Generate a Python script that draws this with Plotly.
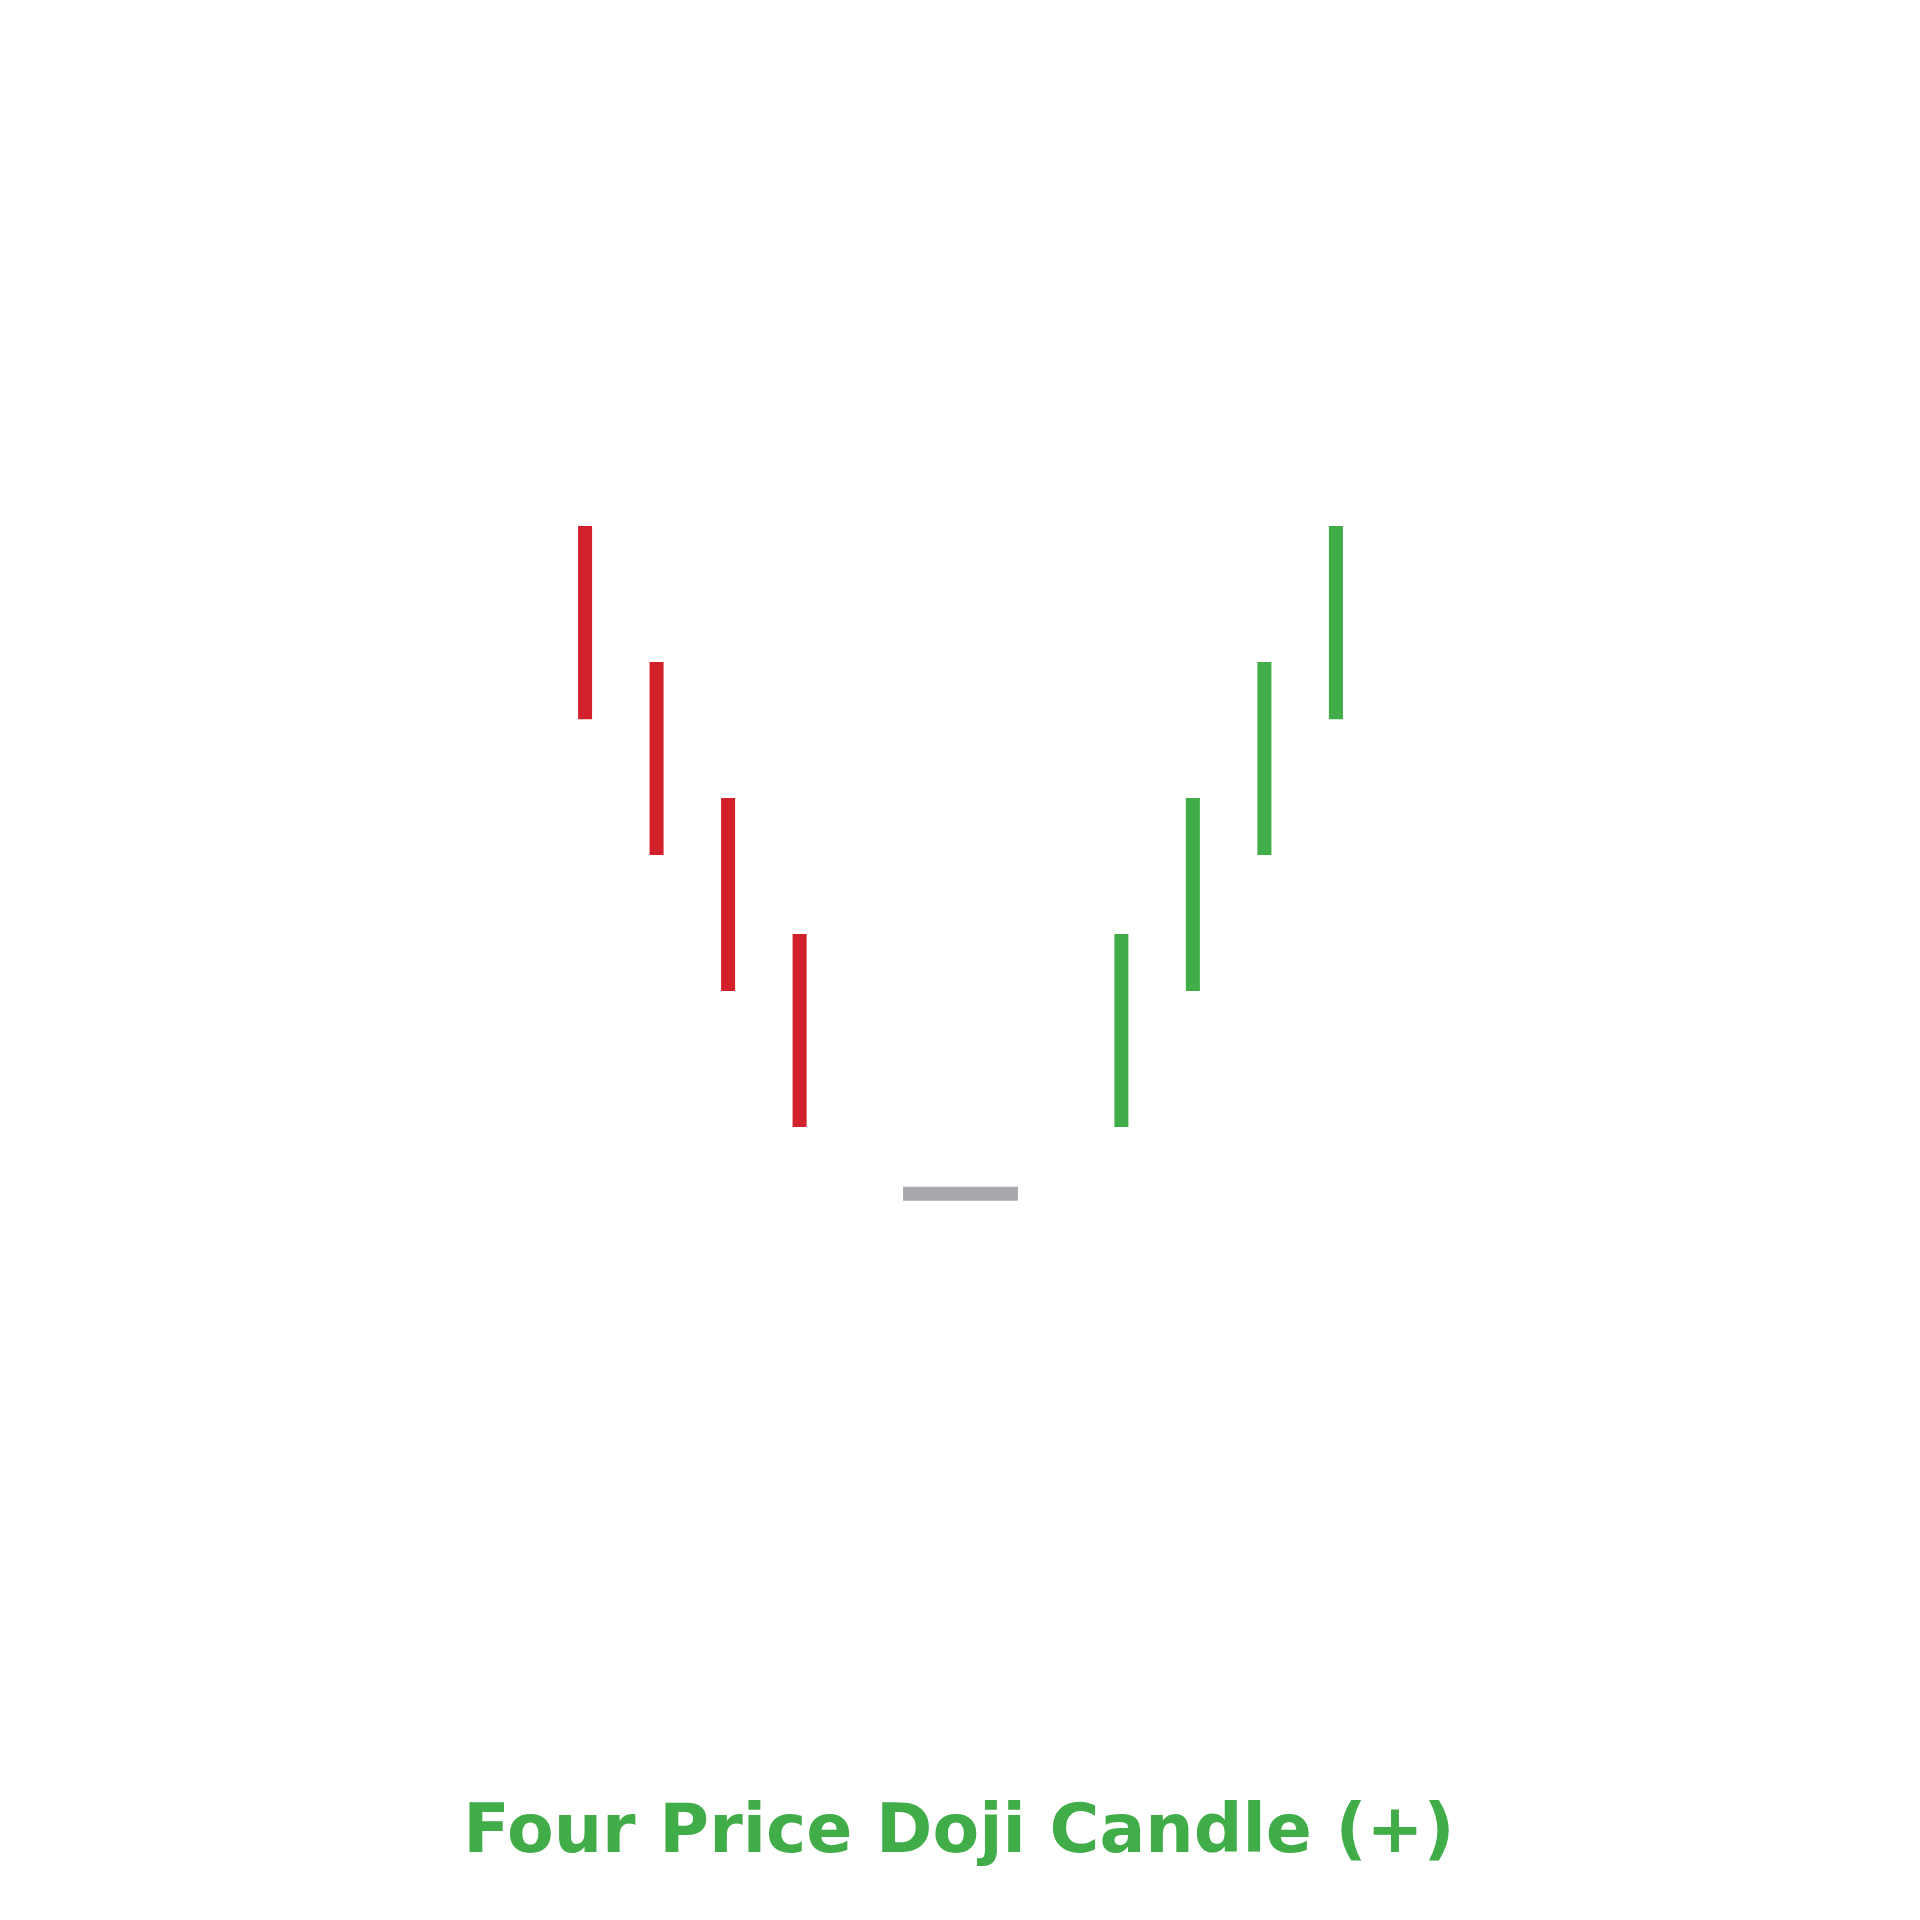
import plotly.graph_objects as go

# candle positions (index units) and prices
red_x = [0, 1, 2, 3]
red_open = [50, 40, 30, 20]
red_close = [35.8, 25.8, 15.8, 5.8]

doji_x = [5.25]
doji_price = [0.9]

green_x = [7.5, 8.5, 9.5, 10.5]
green_open = [5.8, 15.8, 25.8, 35.8]
green_close = [20, 30, 40, 50]

title_text = "Four Price Doji Candle (+)"

RED = "#D3212C"
GREEN = "#41AD49"
GRAY = "#A7A8AC"

fig = go.Figure()

# bearish candles (no wicks: high = open, low = close)
fig.add_trace(go.Bar(
    x=red_x,
    base=red_close,
    y=[o - c for o, c in zip(red_open, red_close)],
    width=0.196,
    marker=dict(color=RED, line=dict(width=0)),
    hoverinfo="skip",
))

# bullish candles
fig.add_trace(go.Bar(
    x=green_x,
    base=green_open,
    y=[c - o for o, c in zip(green_open, green_close)],
    width=0.196,
    marker=dict(color=GREEN, line=dict(width=0)),
    hoverinfo="skip",
))

# four price doji: open = high = low = close
fig.add_trace(go.Scatter(
    x=doji_x, y=doji_price,
    mode="markers",
    marker=dict(symbol="line-ew", size=82, color=GRAY,
                line=dict(color=GRAY, width=14)),
    hoverinfo="skip",
))

# the page has an 8px body margin, so ranges are nudged to compensate
fig.update_layout(
    width=1920, height=1920,
    paper_bgcolor="white",
    plot_bgcolor="white",
    showlegend=False,
    margin=dict(l=0, r=0, t=0, b=0),
    barmode="overlay",
    xaxis=dict(range=[-8.07, 18.78], visible=False, fixedrange=True),
    yaxis=dict(range=[-53.09, 88.09], visible=False, fixedrange=True),
    title=dict(
        text=title_text,
        x=0.4953, xanchor="center",
        yref="container", y=1 - 1820 / 1920, yanchor="middle",
        font=dict(family="DejaVu Sans", size=68, color=GREEN, weight="bold"),
    ),
)

fig.write_html("out.html")
